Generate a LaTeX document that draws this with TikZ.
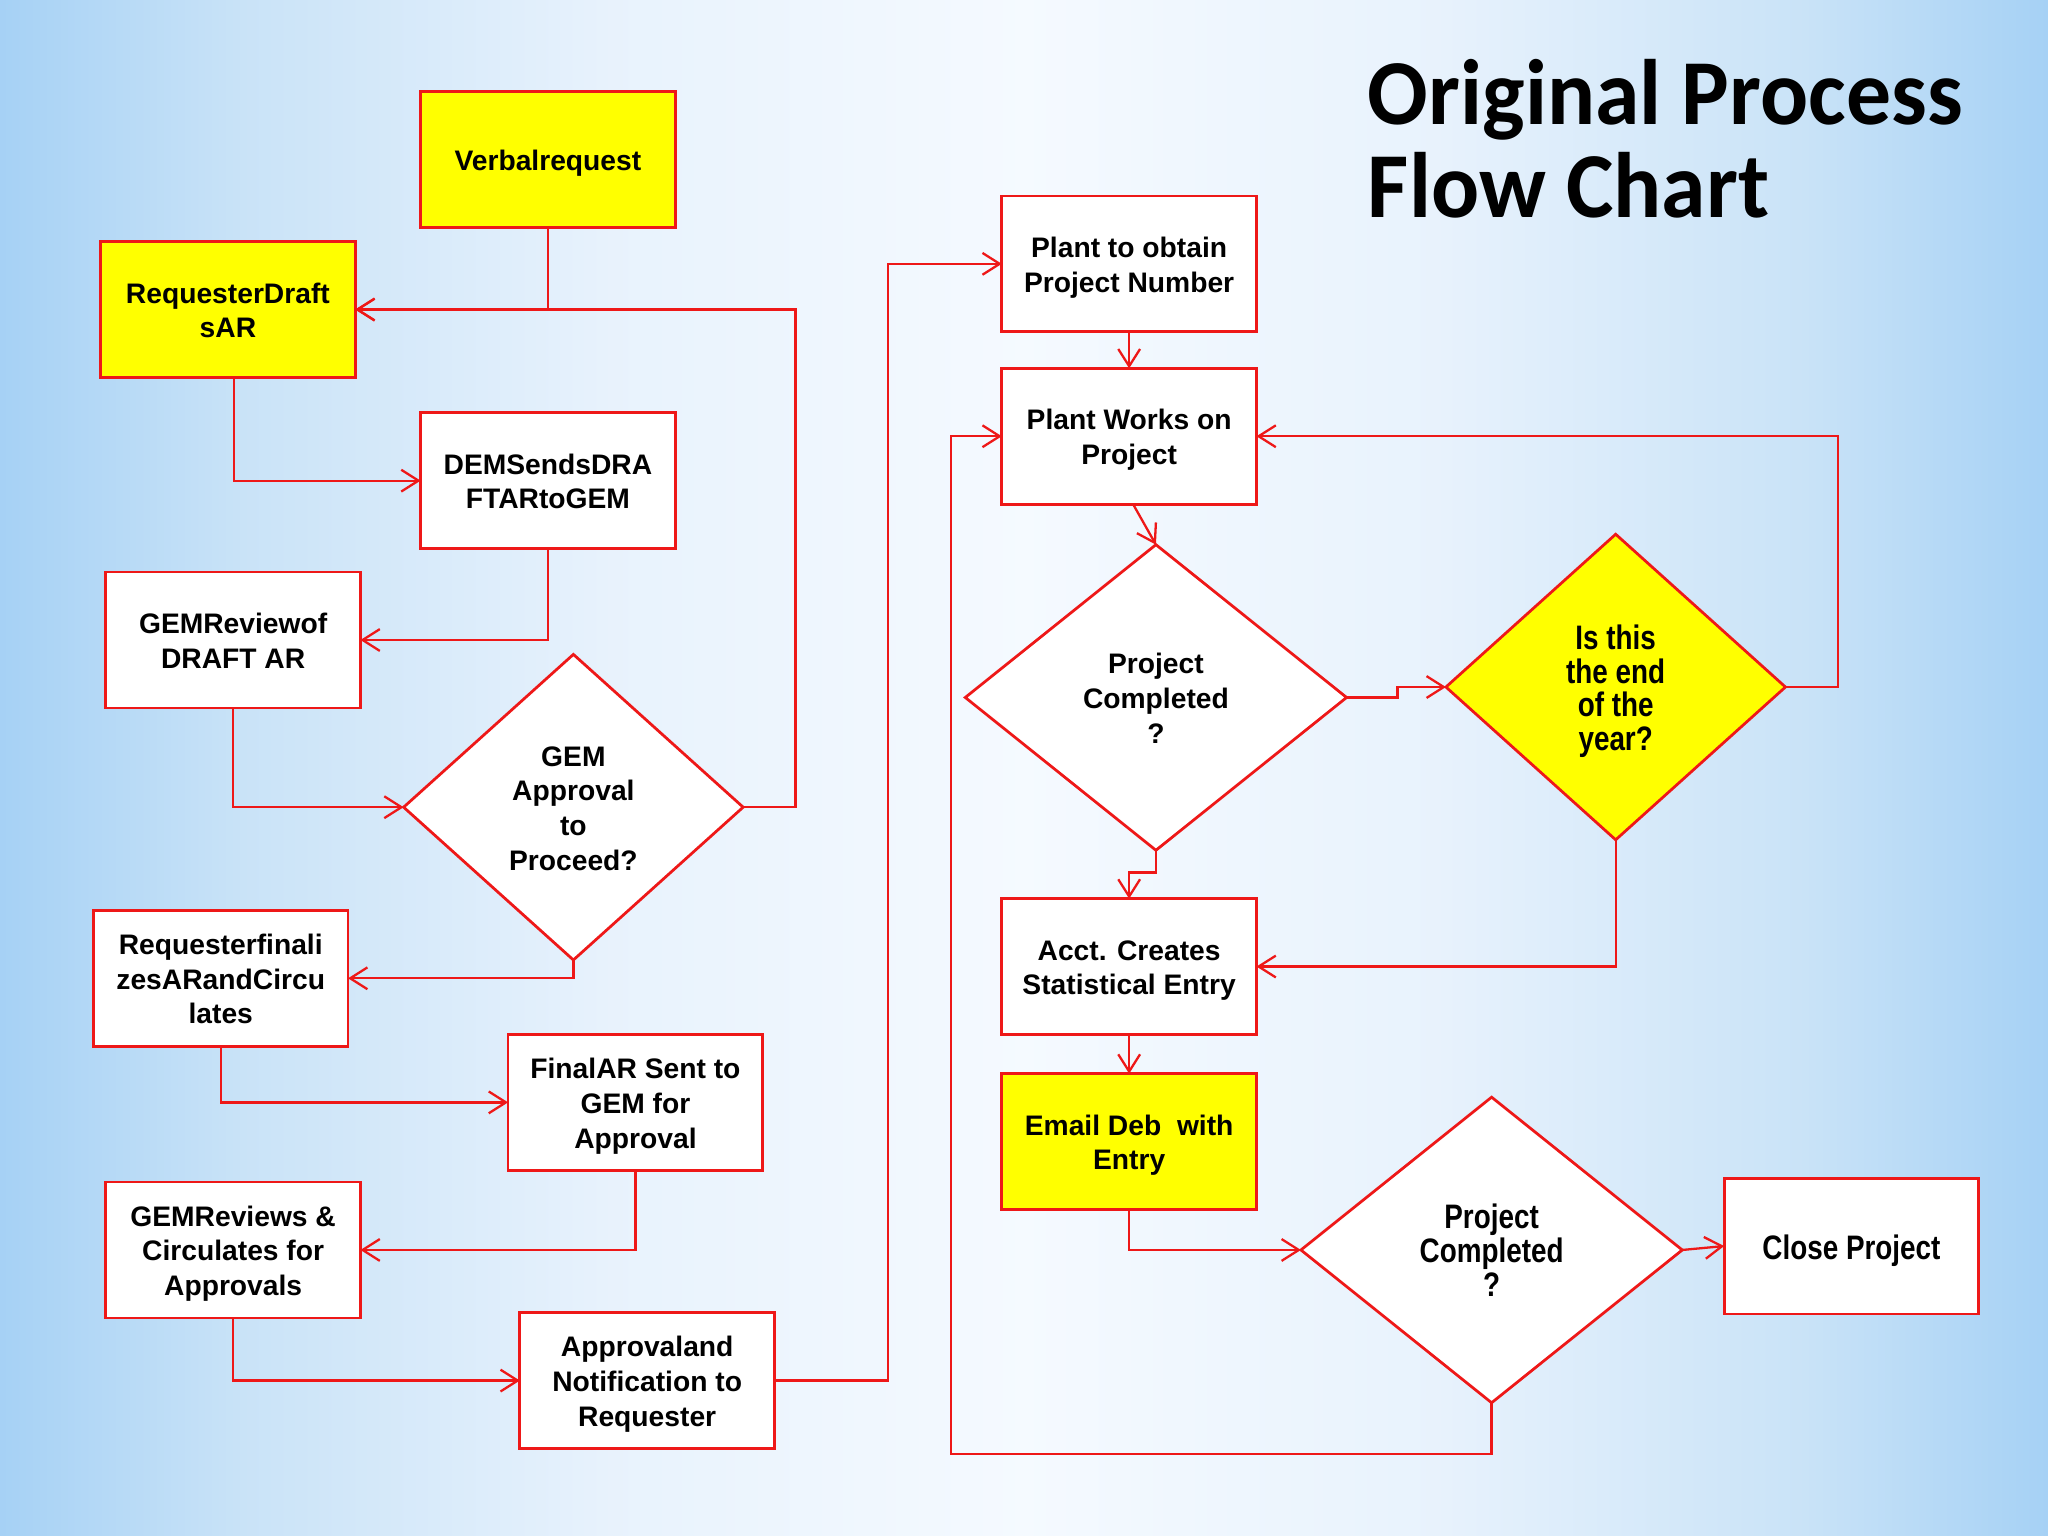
\documentclass[tikz,border=0pt]{standalone}
\usepackage{fontspec}
\usetikzlibrary{shapes.geometric,arrows.meta}
\newfontfamily\boxfont{Liberation Sans}
\newfontfamily\narrowfont{Liberation Sans}[FakeStretch=0.82]
\newfontfamily\titlefont{Carlito}[FakeStretch=0.965]
\definecolor{lnred}{RGB}{238,24,24}
\definecolor{bxyellow}{RGB}{255,255,0}
\pgfdeclarehorizontalshading{bgsh}{100bp}{rgb(0bp)=(0.65,0.82,0.96); rgb(25bp)=(0.65,0.82,0.96); rgb(31bp)=(0.79,0.89,0.97); rgb(40bp)=(0.91,0.95,0.99); rgb(50bp)=(0.96,0.98,1.0); rgb(60bp)=(0.91,0.95,0.99); rgb(69bp)=(0.79,0.89,0.97); rgb(75bp)=(0.65,0.82,0.96); rgb(100bp)=(0.65,0.82,0.96)}
\newcommand\fcbody{\boxfont\bfseries\fontsize{12.3pt}{15.1pt}\selectfont}
\newcommand\fcnarrow{\narrowfont\bfseries\fontsize{14.8pt}{14.8pt}\selectfont}
% struts: top of first line / bottom of last line
\newcommand\sT{\rule{0pt}{13.1pt}}
\newcommand\sB{\rule[-3.5pt]{0pt}{3.5pt}}
\newcommand\nT{\rule{0pt}{15pt}}
\newcommand\nB{\rule[-3.7pt]{0pt}{3.7pt}}
\tikzset{
  boxw/.style={draw=lnred, line width=1.2pt, fill=white, minimum width=3.9cm, minimum height=2.08cm, inner sep=0pt, outer sep=0pt, align=center, font=\fcbody, text=black},
  boxy/.style={boxw, fill=bxyellow},
  dia/.style={shape=diamond, draw=lnred, line width=1.2pt, fill=white, inner sep=0pt, outer sep=0pt, align=center, font=\fcbody, text=black},
  conn/.style={draw=lnred, line width=1pt, -{Straight Barb[length=7.5pt,width=9.5pt]}}
}
\begin{document}
\begin{tikzpicture}[x=0.02cm, y=-0.02cm]
\useasboundingbox (0,0) rectangle (1568,1176);
\fill[shading=bgsh] (0,0) rectangle (1568,1176);

\node[anchor=north west, inner sep=0pt, align=left, font=\titlefont\bfseries\fontsize{40.5pt}{40.7pt}\selectfont] (title) at (1047,45) {Original Process\\Flow Chart};

\node[boxy] (verbal) at (419.5,122) {\sT Verbalrequest\sB};
\node[boxy] (rd) at (174.5,237) {\sT RequesterDraft\\sAR\sB};
\node[boxw] (dem) at (419.5,368) {\sT DEMSendsDRA\\FTARtoGEM\sB};
\node[boxw] (gemrev) at (178.5,490) {\sT GEMReviewof\\DRAFT AR\sB};
\node[dia, minimum width=5.2cm, minimum height=4.68cm] (gem) at (439,618) {\sT GEM\\Approval\\to\\Proceed?\sB};
\node[boxw] (reqfin) at (169,749) {\sT Requesterfinali\\zesARandCircu\\lates\sB};
\node[boxw] (finalar) at (486.5,844) {\sT FinalAR Sent to\\GEM for\\Approval\sB};
\node[boxw] (gemrevs) at (178.5,957) {\sT GEMReviews \&\\Circulates for\\Approvals\sB};
\node[boxw] (approval) at (495.5,1057) {\sT Approvaland\\Notification to\\Requester\sB};

\node[boxw] (plantobt) at (864.5,202) {\sT Plant to obtain\\Project Number\sB};
\node[boxw] (plantworks) at (864.5,334) {\sT Plant Works on\\Project\sB};
\node[dia, minimum width=5.84cm, minimum height=4.68cm] (pc1) at (885,534) {\sT Project\\Completed\\?\sB};
\node[dia, fill=bxyellow, minimum width=5.2cm, minimum height=4.68cm, font=\fcnarrow] (eoy) at (1237,526) {\nT Is this\\the end\\of the\\year?\nB};
\node[boxw] (acct) at (864.5,740) {\sT Acct. Creates\\Statistical Entry\sB};
\node[boxy] (email) at (864.5,874) {\sT Email Deb~ with\\Entry\sB};
\node[dia, minimum width=5.84cm, minimum height=4.68cm, font=\fcnarrow] (pc2) at (1142,957) {\nT Project\\Completed\\?\nB};
\node[boxw, font=\fcnarrow] (close) at (1417.5,954) {\nT Close Project\nB};

\coordinate (loopL) at (728,1113);

\draw[conn] (verbal.south) |- (rd.east);
\draw[conn] (gem.east) -- ++(40,0) |- (rd.east);
\draw[conn] ([xshift=0.09cm]rd.south) |- (dem.west);
\draw[conn] (dem.south) |- (gemrev.east);
\draw[conn] (gemrev.south) |- (gem.west);
\draw[conn] (gem.south) |- (reqfin.east);
\draw[conn] (reqfin.south) |- (finalar.west);
\draw[conn] (finalar.south) |- (gemrevs.east);
\draw[conn] (gemrevs.south) |- (approval.west);
\draw[conn] (approval.east) -- ++(87,0) |- (plantobt.west);
\draw[conn] (plantobt.south) -- (plantworks.north);
\draw[conn] ([xshift=0.06cm]plantworks.south) -- (pc1.north);
\draw[conn] (pc1.east) -- ++(39,0) |- (eoy.west);
\draw[conn] (pc1.south) -- ++(0,17) -| (acct.north);
\draw[conn] (eoy.east) -- ++(40,0) |- (plantworks.east);
\draw[conn] (eoy.south) |- (acct.east);
\draw[conn] (acct.south) -- (email.north);
\draw[conn] (email.south) |- (pc2.west);
\draw[conn] (pc2.east) -- (close.west);
\draw[conn] (pc2.south) |- (loopL) |- (plantworks.west);
\end{tikzpicture}
\end{document}
